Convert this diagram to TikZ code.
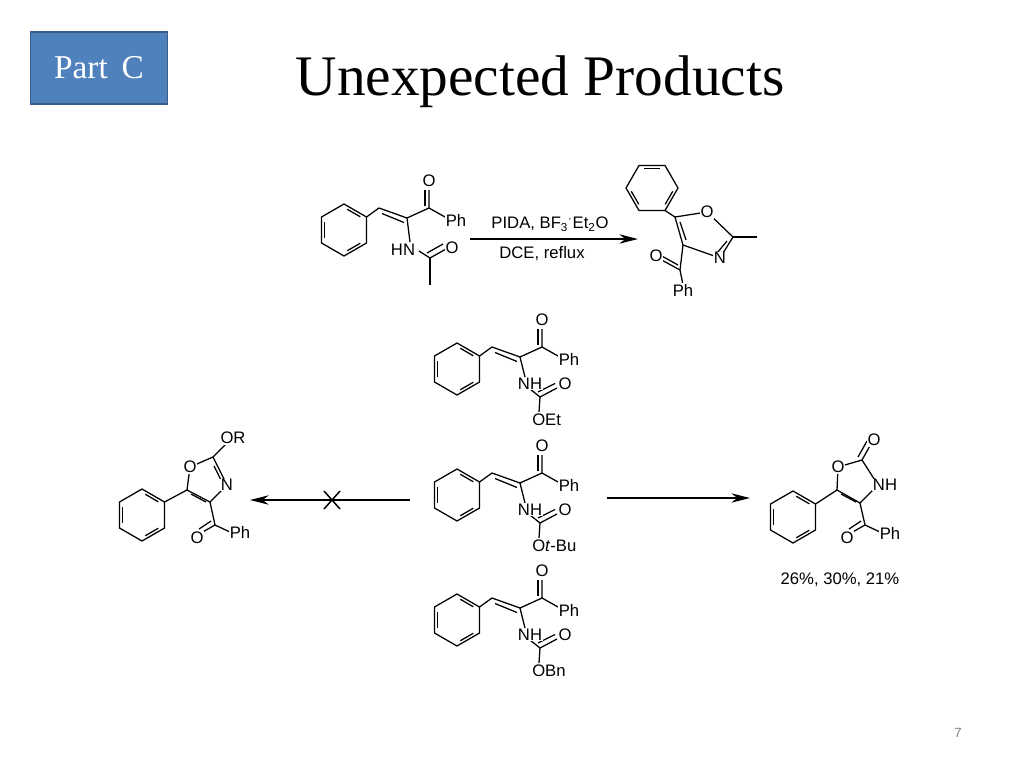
\documentclass[tikz,border=0pt]{standalone}
\usepackage{fontspec}
\setmainfont{Liberation Serif}
\newfontfamily\chemf{Liberation Sans}
\usetikzlibrary{arrows.meta,calc}
\tikzset{
 bd/.style={line width=0.95pt},
 lab/.style={font=\chemf\fontsize{12.5}{14}\selectfont,fill=white,inner sep=0.5pt},
 rx/.style={line width=1.1pt,-{Stealth[length=14pt,width=7pt]}}
}
\newcommand\benzring[4]{% cx cy startangle r
 \draw[bd] ($(#1,#2)+(#3:#4)$) \foreach \i in {1,...,5}{ -- ($(#1,#2)+(#3+60*\i:#4)$)} -- cycle;
 \foreach \i in {0,2,4}{\draw[bd] ($(#1,#2)+(#3+60*\i+9:#4-5)$) -- ($(#1,#2)+(#3+60*\i+51:#4-5)$);}
}
\newcommand\enam[3]{% x y Rlabel
 \begin{scope}[shift={(#1,#2)}]
 \benzring{-63}{12}{-90}{26}
 \draw[bd] (-40.5,-1) -- (-28,-10) -- (0,0) -- (22,-10) -- (22,-28);
 \draw[bd] (-25,-4.5) -- (-3,4.5);
 \draw[bd] (18,-12) -- (18,-28);
 \draw[bd] (22,-10) -- (38,-1);
 \draw[bd] (0,0) -- (5,20);
 \draw[bd] (10,32) -- (20,40) -- (37,31);
 \draw[bd] (18,35) -- (35,26.5);
 \draw[bd] (20,40) -- (19,55);
 \node[lab] at (22,-37) {O};
 \node[lab] at (49,2) {Ph};
 \node[lab] at (10,27) {NH};
 \node[lab] at (45,27) {O};
 \node[lab,anchor=west,inner sep=0pt] at (12,63) {#3};
 \end{scope}
}
\begin{document}
\begin{tikzpicture}[x=0.75pt,y=-0.75pt]
\useasboundingbox (0,0) rectangle (1024,768);
% Part C box
\node[draw={rgb,255:red,56;green,93;blue,138},line width=1.2pt,fill={rgb,255:red,79;green,129;blue,189},minimum width=103pt,minimum height=54pt,text=white,font=\fontsize{25}{27}\selectfont] (part) at (99,68) {Part\, C};
\node[font=\fontsize{43}{46}\selectfont] (title) at (540,82) {Unexpected Products};
\node[text=gray,font=\chemf\fontsize{10}{11}\selectfont] (pg) at (958,733) {7};

% top reactant (acetamide)
\begin{scope}[shift={(407,218)}]
 \benzring{-63}{12}{-90}{26}
 \draw[bd] (-40.5,-1) -- (-28,-10) -- (0,0) -- (22,-10) -- (22,-28);
 \draw[bd] (-25,-4.5) -- (-3,4.5);
 \draw[bd] (18,-12) -- (18,-28);
 \draw[bd] (22,-10) -- (38,-1);
 \draw[bd] (0,0) -- (3,24);
 \draw[bd] (12,33) -- (23,40) -- (39,31);
 \draw[bd] (20,35) -- (36,26);
 \draw[bd] (23,40) -- (23,67);
 \node[lab] at (-4,32) {HN};
 \node[lab] at (22,-37) {O};
 \node[lab] at (49,2) {Ph};
 \node[lab] at (45,30) {O};
\end{scope}

% top arrow
\coordinate (ta) at (470,239); \coordinate (tb) at (638,239);
\draw[rx] (ta) -- (tb);
\node[font=\chemf\fontsize{12.5}{14}\selectfont] (c1) at (550,224) {PIDA, BF\textsubscript{3}\textsuperscript{·}Et\textsubscript{2}O};
\node[font=\chemf\fontsize{12.5}{14}\selectfont] (c2) at (542,254) {DCE, reflux};

% top product oxazole
\benzring{652}{188}{0}{26}
\draw[bd] (665,210.5) -- (675,217);
\draw[bd] (675,217) -- (707,212) -- (733,237) -- (720,258) -- (683,245) -- cycle;
\draw[bd] (680,222) -- (686,240);
\draw[bd] (727,241) -- (717,253);
\draw[bd] (733,237) -- (757,237);
\draw[bd] (683,245) -- (680,270) -- (683,285);
\draw[bd] (680,270) -- (658,258);
\draw[bd] (678,265) -- (660,255);
\node[lab] at (707,212) {O};
\node[lab] at (720,258) {N};
\node[lab] at (656,256) {O};
\node[lab] at (683,290) {Ph};

% middle column
\enam{520}{357}{OEt}
\enam{520}{483}{O\textit{t}-Bu}
\enam{520}{608}{OBn}

% left arrow with cross
\coordinate (la) at (410,500); \coordinate (lb) at (250,500);
\draw[rx] (la) -- (lb);
\draw[line width=1.1pt] (324,491) -- (340,509) (324,509) -- (340,491);

% right arrow
\coordinate (ra) at (607,498); \coordinate (rb) at (750,498);
\draw[rx] (ra) -- (rb);

% left product
\benzring{142}{515}{-90}{26}
\draw[bd] (164.5,502) -- (187,490);
\draw[bd] (187,490) -- (190,467) -- (213,457) -- (227,485) -- (210,502) -- cycle;
\draw[bd] (191,494) -- (206,502);
\draw[bd] (214,466) -- (222,482);
\draw[bd] (213,457) -- (226,444);
\draw[bd] (210,502) -- (215,525) -- (230,532);
\draw[bd] (215,525) -- (201,533);
\draw[bd] (211,521) -- (199,529);
\node[lab] at (190,467) {O};
\node[lab] at (227,485) {N};
\node[lab] at (233,438) {OR};
\node[lab] at (197,538) {O};
\node[lab] at (240,532) {Ph};

% right product
\benzring{793}{517}{-90}{26}
\draw[bd] (815.5,504) -- (837,490);
\draw[bd] (837,490) -- (838,467) -- (862,460) -- (878,485) -- (860,503) -- cycle;
\draw[bd] (841,494) -- (856,502);
\draw[bd] (862,460) -- (871,444);
\draw[bd] (858,457) -- (867,441);
\draw[bd] (860,503) -- (865,525) -- (880,532);
\draw[bd] (865,525) -- (851,533);
\draw[bd] (861,521) -- (849,529);
\node[lab] at (838,467) {O};
\node[lab] at (885,485) {NH};
\node[lab] at (874,440) {O};
\node[lab] at (847,538) {O};
\node[lab] at (890,533) {Ph};
\node[font=\chemf\fontsize{12.5}{14}\selectfont] (yld) at (840,580) {26\%, 30\%, 21\%};
\end{tikzpicture}
\end{document}
